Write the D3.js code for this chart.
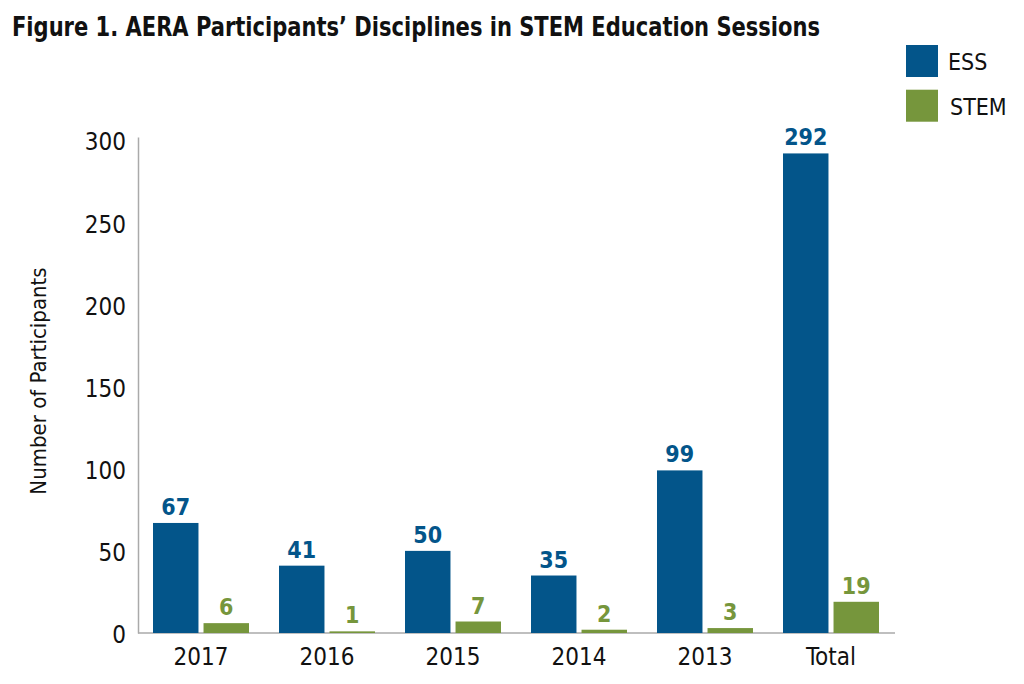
<!DOCTYPE html>
<html><head><meta charset="utf-8">
<script src="https://cdn.jsdelivr.net/npm/d3@7"></script>
<style>
html,body{margin:0;padding:0;background:#fff;}
svg{display:block;}
text{font-family:'DejaVu Sans Condensed','Liberation Sans Narrow',sans-serif;}
</style></head>
<body>
<svg id="chart" width="1024" height="684"></svg>
<script>
const categories = ["2017","2016","2015","2014","2013","Total"];
const seriesNames = ["ESS","STEM"];
const essValues = [67,41,50,35,99,292];
const stemValues = [6,1,7,2,3,19];
const yTicks = [0,50,100,150,200,250,300];
const colors = {ESS:"#03558A", STEM:"#76963C"};
const titleText = "Figure 1. AERA Participants\u2019 Disciplines in STEM Education Sessions";
const yTitle = "Number of Participants";

const valuesBySeries = {ESS: essValues, STEM: stemValues};
const svg = d3.select("#chart");
const FONT = "'DejaVu Sans Condensed','Liberation Sans Narrow',sans-serif";

const x0 = d3.scaleBand().domain(categories).range([138, 894]).padding(0);
const x1 = d3.scaleBand().domain(seriesNames).range([15, 111]).paddingInner(0.1).paddingOuter(0);
const y = d3.scaleLinear().domain([0, 302]).range([633, 137]);

// title
const title = svg.append("text").attr("x", 12).attr("y", 36)
  .attr("font-size", 27).attr("font-weight", "bold").attr("fill", "#111")
  .text(titleText);
const tw = title.node().getComputedTextLength();
if (tw > 810) title.attr("textLength", 808).attr("lengthAdjust", "spacingAndGlyphs");

// y axis
const yAxis = svg.append("g").attr("transform", "translate(138,0)")
  .call(d3.axisLeft(y).tickValues(yTicks).tickSize(0).tickPadding(12).tickFormat(d3.format("d")));
yAxis.select(".domain").attr("stroke", "#aaa").attr("stroke-width", 1.5);
yAxis.selectAll("text").attr("font-size", 24).attr("fill", "#111").attr("dy", "0.4em")
  .style("font-family", FONT);

// x axis
const xAxis = svg.append("g").attr("transform", "translate(0,633)")
  .call(d3.axisBottom(x0).tickSize(0).tickSizeOuter(0).tickPadding(15));
xAxis.select(".domain").attr("stroke", "#aaa").attr("stroke-width", 1.5)
  .attr("d", `M138,0H895`);
xAxis.selectAll("text").attr("font-size", 24).attr("fill", "#111").attr("dy", "0.71em")
  .style("font-family", FONT);

// y title
svg.append("text").attr("transform", "translate(46,381) rotate(-90)")
  .attr("text-anchor", "middle").attr("font-size", 22).attr("fill", "#111")
  .text(yTitle);

// bars
const data = [];
categories.forEach((c, i) => seriesNames.forEach(s => data.push({cat: c, series: s, value: valuesBySeries[s][i]})));

svg.append("g").selectAll("rect").data(data).join("rect")
  .attr("x", d => x0(d.cat) + x1(d.series))
  .attr("width", x1.bandwidth())
  .attr("y", d => y(d.value))
  .attr("height", d => y(0) - y(d.value))
  .attr("fill", d => colors[d.series]);

svg.append("g").selectAll("text").data(data).join("text")
  .attr("x", d => x0(d.cat) + x1(d.series) + x1.bandwidth() / 2)
  .attr("y", d => y(d.value) - 8)
  .attr("text-anchor", "middle").attr("font-size", 23).attr("font-weight", "bold")
  .attr("fill", d => colors[d.series])
  .text(d => d.value);

// legend
const legend = svg.append("g");
const ly = d3.scaleBand().domain(seriesNames).range([45, 121]).paddingInner(0.3);
seriesNames.forEach(s => {
  legend.append("rect").attr("x", 906).attr("y", ly(s)).attr("width", 32).attr("height", 32)
    .attr("fill", colors[s]);
  legend.append("text").attr("x", s === "ESS" ? 948 : 950).attr("y", ly(s) + 25)
    .attr("font-size", 23).attr("fill", "#111").text(s);
});
</script>
</body></html>
